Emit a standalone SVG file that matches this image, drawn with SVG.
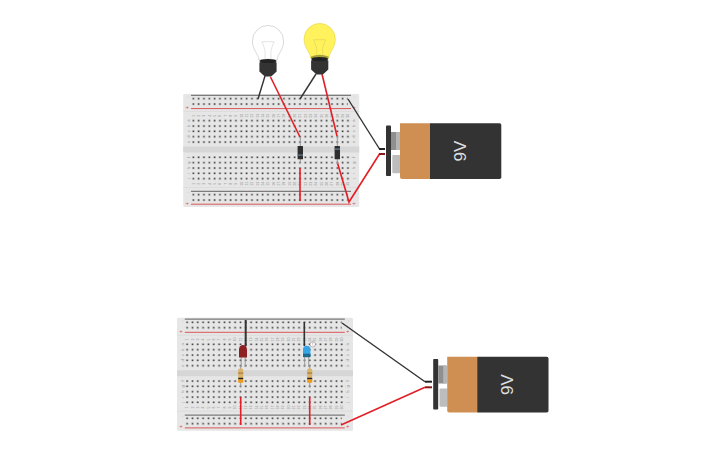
<svg xmlns="http://www.w3.org/2000/svg" width="725" height="453" viewBox="0 0 725 453">
<style>
text{font-family:"Liberation Sans",Arial,sans-serif}
.num{font-size:3.6px;fill:#8c8c8c;text-anchor:middle}
.let{font-size:4px;fill:#8c8c8c;text-anchor:middle}
.sign{font-size:6px;text-anchor:middle}
.bk{stroke:#333;stroke-width:1.4;fill:none}
.rd{stroke:#e21f26;stroke-width:1.6;fill:none}
.lead{stroke:#999;stroke-width:1;fill:none}
.v9{font-size:17px;fill:#ddd;text-anchor:middle}
</style>
<defs>
<pattern id="holes" x="191.9" y="118.7" width="5.333" height="5.333" patternUnits="userSpaceOnUse"><rect x=".6" y="1.2" width="1.6" height="1.6" fill="#333"/></pattern>
<pattern id="rail" x="191.9" y="96.7" width="5.333" height="5.333" patternUnits="userSpaceOnUse"><rect x=".6" y="1.2" width="1.6" height="1.6" fill="#333"/></pattern>
<g id="nums">
<text class="num" transform="translate(0)rotate(-90)" y="1.2">1</text><text class="num" transform="translate(5.33)rotate(-90)" y="1.2">2</text><text class="num" transform="translate(10.67)rotate(-90)" y="1.2">3</text><text class="num" transform="translate(16)rotate(-90)" y="1.2">4</text><text class="num" transform="translate(21.33)rotate(-90)" y="1.2">5</text><text class="num" transform="translate(26.67)rotate(-90)" y="1.2">6</text><text class="num" transform="translate(32)rotate(-90)" y="1.2">7</text><text class="num" transform="translate(37.33)rotate(-90)" y="1.2">8</text><text class="num" transform="translate(42.67)rotate(-90)" y="1.2">9</text><text class="num" transform="translate(48)rotate(-90)" y="1.2">10</text><text class="num" transform="translate(53.33)rotate(-90)" y="1.2">11</text><text class="num" transform="translate(58.67)rotate(-90)" y="1.2">12</text><text class="num" transform="translate(64)rotate(-90)" y="1.2">13</text><text class="num" transform="translate(69.33)rotate(-90)" y="1.2">14</text><text class="num" transform="translate(74.67)rotate(-90)" y="1.2">15</text><text class="num" transform="translate(80)rotate(-90)" y="1.2">16</text><text class="num" transform="translate(85.33)rotate(-90)" y="1.2">17</text><text class="num" transform="translate(90.67)rotate(-90)" y="1.2">18</text><text class="num" transform="translate(96)rotate(-90)" y="1.2">19</text><text class="num" transform="translate(101.33)rotate(-90)" y="1.2">20</text><text class="num" transform="translate(106.67)rotate(-90)" y="1.2">21</text><text class="num" transform="translate(112)rotate(-90)" y="1.2">22</text><text class="num" transform="translate(117.33)rotate(-90)" y="1.2">23</text><text class="num" transform="translate(122.67)rotate(-90)" y="1.2">24</text><text class="num" transform="translate(128)rotate(-90)" y="1.2">25</text><text class="num" transform="translate(133.33)rotate(-90)" y="1.2">26</text><text class="num" transform="translate(138.67)rotate(-90)" y="1.2">27</text><text class="num" transform="translate(144)rotate(-90)" y="1.2">28</text><text class="num" transform="translate(149.33)rotate(-90)" y="1.2">29</text><text class="num" transform="translate(154.67)rotate(-90)" y="1.2">30</text>
</g>
<g id="lets">
<text class="let" transform="translate(0,120.7)rotate(-90)" y="1.4">a</text><text class="let" transform="translate(0,126)rotate(-90)" y="1.4">b</text><text class="let" transform="translate(0,131.3)rotate(-90)" y="1.4">c</text><text class="let" transform="translate(0,136.7)rotate(-90)" y="1.4">d</text><text class="let" transform="translate(0,142)rotate(-90)" y="1.4">e</text><text class="let" transform="translate(0,157.3)rotate(-90)" y="1.4">f</text><text class="let" transform="translate(0,162.7)rotate(-90)" y="1.4">g</text><text class="let" transform="translate(0,168)rotate(-90)" y="1.4">h</text><text class="let" transform="translate(0,173.3)rotate(-90)" y="1.4">i</text><text class="let" transform="translate(0,178.7)rotate(-90)" y="1.4">j</text>
</g>
<g id="board">
<rect x="183.2" y="94" width="176" height="113" rx="1.5" fill="#e6e6e6"/>
<rect x="183.2" y="146.500" width="176" height="6" fill="#d6d6d6"/>
<path d="M183.2 111.500H359.2M183.2 187.500H359.2" stroke="#d9d9d9" stroke-width=".7"/>
<path d="M191 95.400H351M191 191.400H351" stroke="#7c7c7c" stroke-width="1.100"/>
<path d="M191 108.600H351M191 204.200H351" stroke="#d9555a" stroke-width="1"/>
<rect x="191.900" y="96.700" width="156" height="10.700" fill="url(#rail)"/>
<rect x="191.900" y="192.700" width="156" height="10.700" fill="url(#rail)"/>
<rect x="191.900" y="118.700" width="160" height="26.700" fill="url(#holes)"/>
<rect x="191.900" y="155.360" width="160" height="26.700" fill="url(#rail)"/>
<use href="#nums" x="193.300" y="115.700"/>
<use href="#nums" x="193.300" y="183.700"/>
<use href="#lets" x="188.700"/>
<use href="#lets" x="353.600"/>
<text class="let" transform="translate(187.300,97.300)rotate(-90)" y="1.400">-</text><text class="let" transform="translate(354,97.300)rotate(-90)" y="1.400">-</text><text class="let" transform="translate(187.300,192.700)rotate(-90)" y="1.400">-</text><text class="let" transform="translate(354,192.700)rotate(-90)" y="1.400">-</text>
<text class="sign" x="187.300" y="109.300" fill="#d9555a">+</text><text class="sign" x="354" y="109.300" fill="#d9555a">+</text><text class="sign" x="187.300" y="204.500" fill="#d9555a">+</text><text class="sign" x="354" y="204.500" fill="#d9555a">+</text>
</g>
<g id="bulbshape">
<path d="M-9 19C-10 12-15.600 9-15.600 0A15.600 15.600 0 0 1 15.600 0C15.600 9 10 12 9 19Z"/>
</g>
<g id="filament"><path d="M-6 .7H6L3 9V18H-3V9Z" fill="none" stroke-width=".5"/></g>
<g id="socket">
<path d="M-8.600 21.500Q0 17 8.600 21.500V30.500Q5 34 3 35.500H-3Q-5 34-8.600 30.500Z" fill="#333"/>
<ellipse cx="0" cy="20" rx="8.600" ry="2" fill="#222"/>
</g>
<g id="battery">
<rect x="386" y="125.500" width="5" height="50.500" rx=".8" fill="#333"/>
<rect x="391" y="132" width="8" height="18" fill="#8f8f8f"/><rect x="396" y="132" width="4" height="18" fill="#b5b5b5"/>
<rect x="392.300" y="155" width="8" height="18.300" rx="1" fill="#bdbdbd"/>
<path d="M400 123.300H430V179H402Q400 179 400 177Z" fill="#d08f52"/>
<path d="M430 123.300H499.500Q501.300 123.300 501.300 125V177.300Q501.300 179 499.500 179H430Z" fill="#333"/>
<text class="v9" transform="translate(466,151)rotate(-90)">9V</text>
</g>
<g id="resistor">
<path d="M0 -3V19" class="lead"/>
<rect x="-2.500" y="0" width="5" height="14.500" rx="1.800" fill="#d9b36c"/>
<rect x="-2.500" y="4" width="5" height="1.200" fill="#a9793c"/><rect x="-2.500" y="9.300" width="5" height="1.500" fill="#222"/><rect x="-2.500" y="11" width="5" height="3" fill="#ee9a1e"/>
</g>
</defs>
<rect width="725" height="453" fill="#fff"/>
<g id="breadboard-top"><use href="#board"/></g>
<g id="breadboard-bottom"><use href="#board" transform="translate(-6.200,223.700)"/></g>
<g id="connectors">
<path class="bk" d="M265 76L258 99"/>
<path class="rd" d="M270.500 77L300 137"/>
<path class="bk" d="M316 74L300 99"/>
<path class="rd" d="M322 74L337 136"/>
<path class="rd" d="M300 168V201"/>
<path class="rd" d="M337.500 163L349 202L379.500 154"/>
<path class="bk" d="M348 99L379.500 149"/>
<path stroke="#8a1a1a" stroke-width="2" d="M379 154H385"/>
<path stroke="#222" stroke-width="2" d="M379 149H385"/>
<path class="bk" style="stroke-width:2" d="M245.700 320V346"/>
<path class="bk" style="stroke-width:1.600" d="M304.300 322V346"/>
<path class="rd" d="M240.700 397V425"/>
<path class="rd" d="M309.700 397V425"/>
<path class="bk" d="M342 323L425 381.700"/>
<path class="rd" d="M341 425L425 387.300"/>
<path stroke="#8a1a1a" stroke-width="2" d="M425 387.300H432"/>
<path stroke="#222" stroke-width="2" d="M425 381.700H432"/>
</g>
<g id="bulb-off">
<g transform="translate(268,41)"><use href="#bulbshape" fill="#fff" stroke="#c8c8c8" stroke-width=".7"/><use href="#filament" stroke="#c8c8c8"/><use href="#socket"/></g>
</g>
<g id="bulb-on">
<g transform="translate(319.700,39)"><use href="#bulbshape" fill="#fff25c" stroke="#e8d94a" stroke-width=".7"/><use href="#filament" stroke="#d8cc50"/><path d="M-8.800 17.500Q0 14 8.800 17.500V19.500H-8.800Z" fill="#a8a23c"/><use href="#socket"/></g>
</g>
<g id="diode-1"><path class="lead" d="M300.300 137V163"/><rect x="297.600" y="146" width="5.400" height="13.300" rx=".6" fill="#2e2e2e"/><rect x="297.600" y="154.500" width="5.400" height="1.200" fill="#667f92"/></g>
<g id="diode-2"><path class="lead" d="M337.300 136V164"/><rect x="334.600" y="146" width="5.400" height="13.300" rx=".6" fill="#2e2e2e"/><rect x="334.600" y="148.500" width="5.400" height="1.200" fill="#667f92"/></g>
<g id="battery-top"><use href="#battery"/></g>
<g id="battery-bottom"><use href="#battery" transform="translate(47.200,233.500)"/></g>
<g id="led-red"><path class="lead" d="M241.200 356V367M245.200 356V367"/><path d="M239 357.500V349.500A4 4.500 0 0 1 247 349.500V357.500Z" fill="#8c2022"/></g>
<g id="led-blue"><path class="lead" d="M304.700 356V367M308.700 356V367"/><path d="M303 357V349.500A3.700 3.700 0 0 1 310.400 349.500V357Z" fill="#34a5e6"/><rect x="303" y="353.700" width="7.400" height="3.500" fill="#1f6a8c"/><circle cx="312.700" cy="344.300" r="2.700" fill="#fff" stroke="#888" stroke-width=".6"/><text x="312.700" y="346" font-size="4.500" fill="#666" text-anchor="middle">!</text></g>
<g id="resistor-1"><use href="#resistor" x="240.700" y="368.500"/></g>
<g id="resistor-2"><use href="#resistor" x="309.700" y="368.500"/></g>
</svg>
